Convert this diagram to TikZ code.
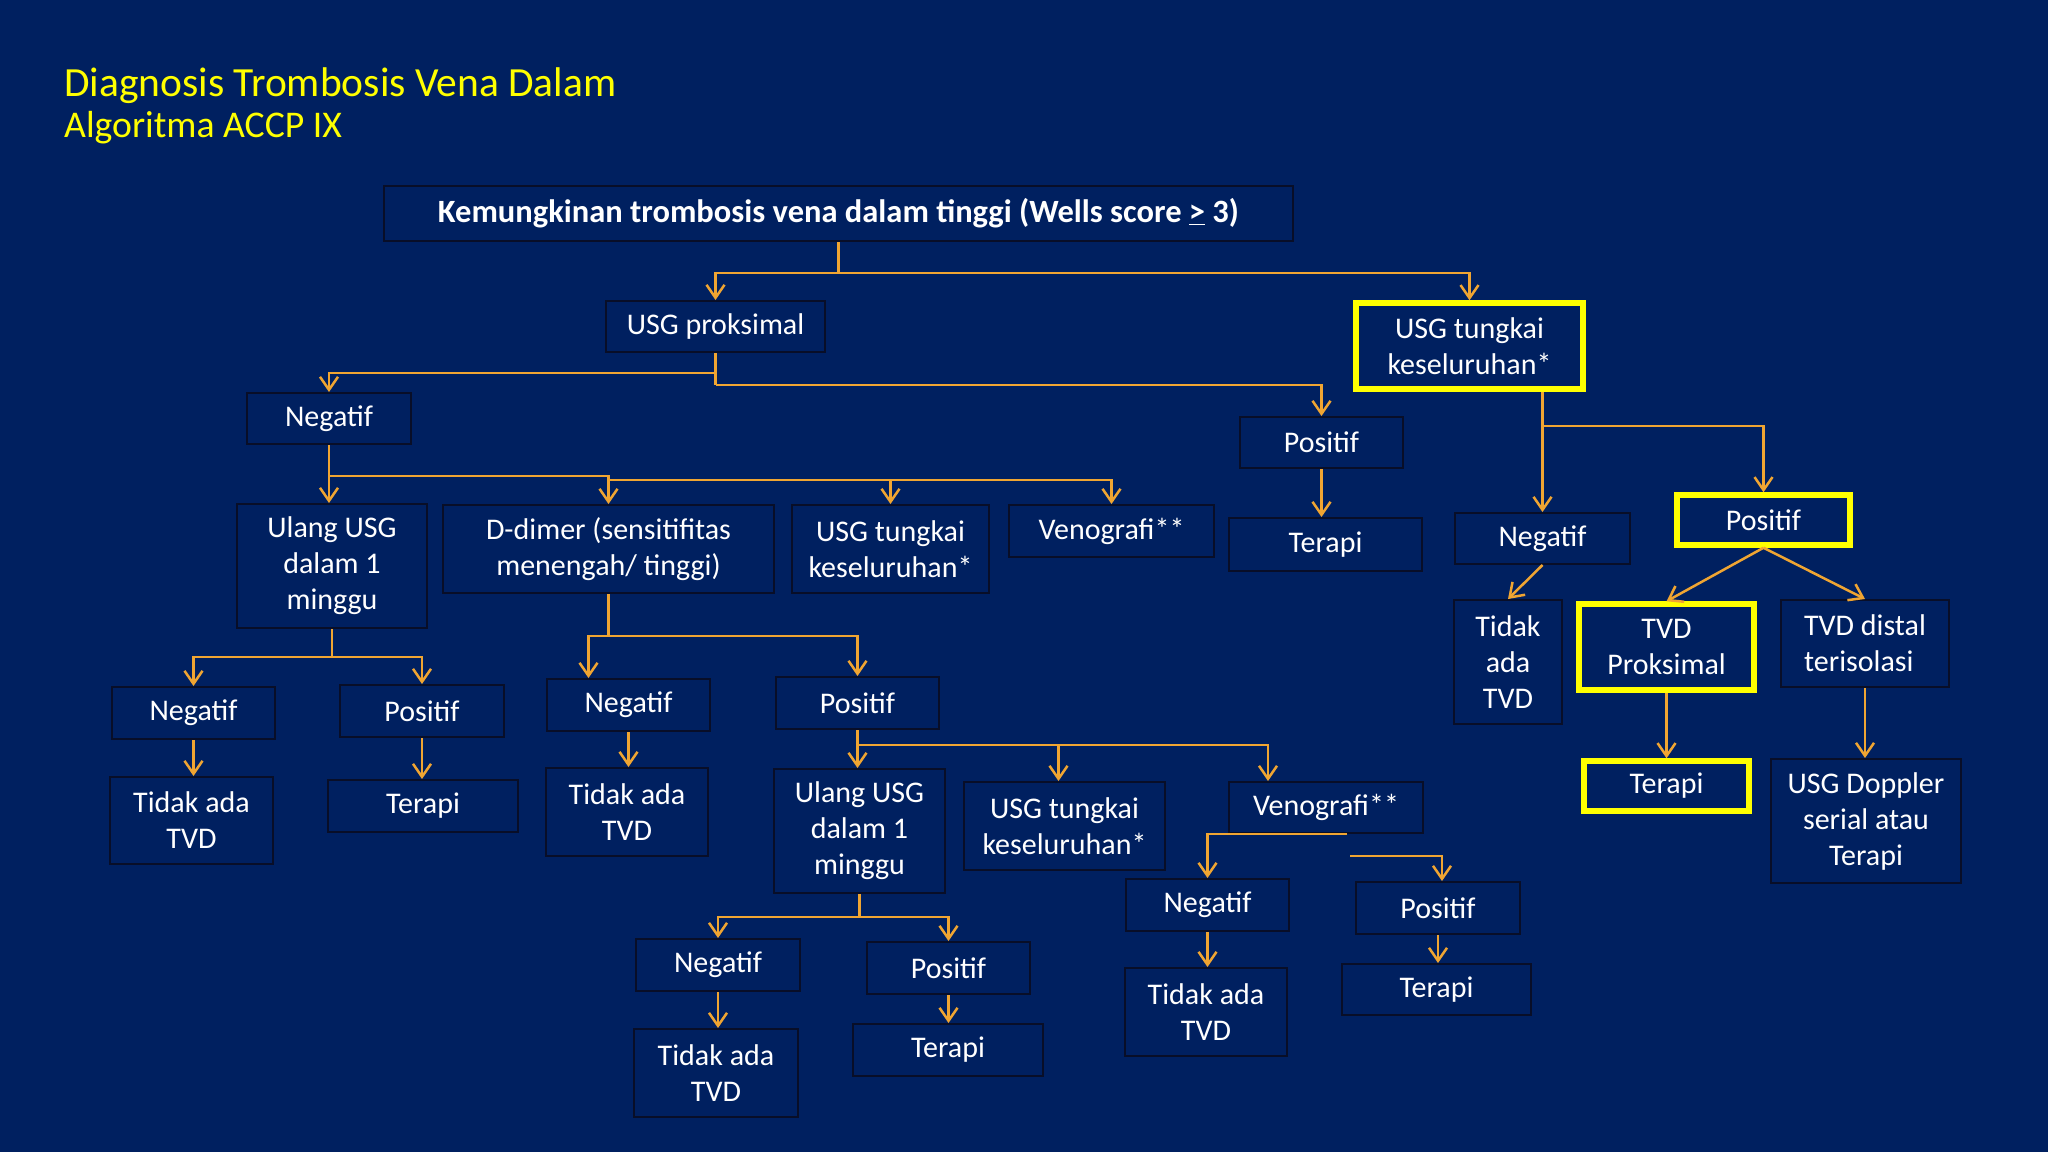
\documentclass[tikz,border=0pt]{standalone}
\usepackage{fontspec}
\setmainfont{Carlito}
\usetikzlibrary{arrows.meta,calc}
\definecolor{bg}{RGB}{0,32,96}
\definecolor{conncol}{RGB}{240,165,50}
\definecolor{brd}{RGB}{8,14,40}
\definecolor{ylw}{RGB}{255,255,0}
\newcommand\bodyfont{\fontsize{30}{36}\selectfont}
\tikzset{
 box/.style={draw=brd, line width=2pt, inner sep=0pt, text=white, align=center, font=\bodyfont},
 ybox/.style={box, draw=ylw, line width=5.5pt},
 conn/.style={draw=conncol, line width=2.5pt, -{Straight Barb[length=13pt,width=18pt]}},
 plainline/.style={draw=conncol, line width=2.5pt}
}
\begin{document}
\begin{tikzpicture}[x=1pt,y=-1pt]
\fill[bg] (0,0) rectangle (2048,1152);
\useasboundingbox (0,0) rectangle (2048,1152);

% titles
\node[anchor=base west, inner sep=0pt, text=ylw, font=\fontsize{41.5}{50}\selectfont] (title) at (64,96) {Diagnosis Trombosis Vena Dalam};
\node[anchor=base west, inner sep=0pt, text=ylw, font=\fontsize{37.7}{44}\selectfont] (subtitle) at (64,137) {Algoritma ACCP IX};

% boxes
\node[box, font=\fontsize{32.5}{38}\selectfont\bfseries, minimum width=909pt, minimum height=55pt] (top) at (838.5,213.5) {Kemungkinan trombosis vena dalam tinggi (Wells score \underline{>} 3)};
\node[box, minimum width=219pt, minimum height=51pt] (usgp) at (715.5,326.5) {USG proksimal};
\node[ybox, minimum width=227pt, minimum height=86pt] (usgt) at (1469.5,346) {USG tungkai\\keseluruhan*};

\node[box, minimum width=164pt, minimum height=51pt] (neg1) at (329,418.5) {Negatif};
\node[box, minimum width=163pt, minimum height=51pt] (pos1) at (1321.5,442.5) {Positif};
\node[box, minimum width=193pt, minimum height=53pt] (ter1) at (1325.5,544.5) {Terapi};

\node[box, minimum width=175pt, minimum height=51pt] (neg2) at (1542.5,538.5) {Negatif};
\node[ybox, minimum width=173pt, minimum height=50pt] (pos2) at (1763.5,520) {Positif};
\node[box, minimum width=108pt, minimum height=124pt] (tdk2) at (1508,662) {Tidak\\ada\\TVD};
\node[ybox, minimum width=175pt, minimum height=86pt] (tvdp) at (1666.5,647) {TVD\\Proksimal};
\node[box, minimum width=168pt, minimum height=87pt, align=left] (tvdd) at (1865,643.5) {TVD distal\\terisolasi};
\node[box, minimum width=190pt, minimum height=124pt] (dop) at (1866,821) {USG Doppler\\serial atau\\Terapi};
\node[ybox, minimum width=165pt, minimum height=50pt] (ter2) at (1666.5,786) {Terapi};

\node[box, minimum width=190pt, minimum height=124pt] (ulang1) at (332,566) {Ulang USG\\dalam 1\\minggu};
\node[box, minimum width=331pt, minimum height=88pt] (ddim) at (608.5,549) {D-dimer (sensitifitas\\menengah/ tinggi)};
\node[box, minimum width=197pt, minimum height=88pt] (usgt2) at (890.5,549) {USG tungkai\\keseluruhan*};
\node[box, minimum width=205pt, minimum height=52pt] (veno1) at (1111.5,531) {Venografi**};

\node[box, minimum width=163pt, minimum height=52pt] (neg3) at (193.5,713) {Negatif};
\node[box, minimum width=164pt, minimum height=52pt] (pos3) at (422,711) {Positif};
\node[box, minimum width=163pt, minimum height=87pt] (tdk3) at (191.5,820.5) {Tidak ada\\TVD};
\node[box, minimum width=190pt, minimum height=52pt] (ter3) at (423,806) {Terapi};

\node[box, minimum width=163pt, minimum height=52pt] (neg4) at (628.5,705) {Negatif};
\node[box, minimum width=162pt, minimum height=88pt] (tdk4) at (627,812) {Tidak ada\\TVD};
\node[box, minimum width=163pt, minimum height=52pt] (pos4) at (857.5,703) {Positif};

\node[box, minimum width=171pt, minimum height=124pt] (ulang2) at (859.5,831) {Ulang USG\\dalam 1\\minggu};
\node[box, minimum width=201pt, minimum height=88pt] (usgt3) at (1064.5,826) {USG tungkai\\keseluruhan*};
\node[box, minimum width=194pt, minimum height=51pt] (veno2) at (1326,807.5) {Venografi**};

\node[box, minimum width=163pt, minimum height=52pt] (neg5) at (1207.5,905) {Negatif};
\node[box, minimum width=162pt, minimum height=88pt] (tdk5) at (1206,1012) {Tidak ada\\TVD};
\node[box, minimum width=164pt, minimum height=52pt] (pos5) at (1438,908) {Positif};
\node[box, minimum width=189pt, minimum height=51pt] (ter5) at (1436.5,989.5) {Terapi};

\node[box, minimum width=164pt, minimum height=52pt] (neg6) at (718,965) {Negatif};
\node[box, minimum width=164pt, minimum height=88pt] (tdk6) at (716,1073) {Tidak ada\\TVD};
\node[box, minimum width=163pt, minimum height=52pt] (pos6) at (948.5,968) {Positif};
\node[box, minimum width=190pt, minimum height=52pt] (ter6) at (948,1050) {Terapi};

% hubs
\coordinate (h0) at ($(top.south)+(0,31)$);
\coordinate (h1) at ($(usgp.south)+(0,20)$);
\coordinate (h1b) at ($(usgp.south)+(0,32)$);
\coordinate (h2a) at (neg2.north |- usgt.south);
\coordinate (h2) at ($(h2a)+(0,34)$);
\coordinate (h3) at ($(neg1.south)+(0,31)$);
\coordinate (h3b) at ($(ddim.north |- h3)+(0,4)$);
\coordinate (h4) at ($(ulang1.south)+(0,28)$);
\coordinate (h5) at ($(ddim.south)+(0,42)$);
\coordinate (h6) at ($(pos4.south)+(0,15)$);
\coordinate (h7) at ($(ulang2.south)+(0,23)$);
\coordinate (v2a) at ($(veno2.south)+(21,0)$);
\coordinate (vfree) at ($(veno2.south)+(24,22)$);

% connectors
\draw[plainline] (top.south) -- (h0);
\draw[conn] (h0) -| (usgp.north);
\draw[conn] (h0) -| (usgt.north);

\draw[plainline] (usgp.south) -- (h1b);
\draw[conn] (h1) -| (neg1.north);
\draw[conn] (h1b) -| (pos1.north);
\draw[conn] (pos1.south) -- (pos1.south |- ter1.north);

\draw[conn] (h2a) -- (neg2.north);
\draw[conn] (h2) -| (pos2.north);
\draw[conn] (neg2.south) -- (tdk2.north);
\draw[conn] (pos2.south) -- (tvdp.north);
\draw[conn] (pos2.south) -- (tvdd.north);
\draw[conn] (tvdp.south) -- (tvdp.south |- ter2.north);
\draw[conn] (tvdd.south) -- (tvdd.south |- dop.north);

\draw[conn] (neg1.south) -- (neg1.south |- ulang1.north);
\draw[conn] (h3) -| (ddim.north);
\draw[conn] (h3b) -| (usgt2.north);
\draw[conn] (h3b) -| (veno1.north);

\draw[plainline] (ulang1.south) -- (h4);
\draw[conn] (h4) -| (neg3.north);
\draw[conn] (h4) -| (pos3.north);
\draw[conn] (neg3.south) -- (neg3.south |- tdk3.north);
\draw[conn] (pos3.south) -- (pos3.south |- ter3.north);

\draw[plainline] (ddim.south) -- (h5);
\draw[conn] (h5) -| ($(neg4.north)+(-40,0)$);
\draw[conn] (h5) -| (pos4.north);
\draw[conn] (neg4.south) -- (neg4.south |- tdk4.north);

\draw[conn] (pos4.south) -- (pos4.south |- ulang2.north);
\draw[conn] (h6) -| ($(usgt3.north)+(-6,0)$);
\draw[conn] (h6) -| ($(veno2.north)+(-58,0)$);

\draw[conn] (v2a) -| (neg5.north);
\draw[conn] (vfree) -| ($(pos5.north)+(4,0)$);
\draw[conn] (neg5.south) -- (neg5.south |- tdk5.north);
\draw[conn] (pos5.south) -- (pos5.south |- ter5.north);

\draw[plainline] (ulang2.south) -- (h7);
\draw[conn] (h7) -| (neg6.north);
\draw[conn] (h7) -| (pos6.north);
\draw[conn] (neg6.south) -- (neg6.south |- tdk6.north);
\draw[conn] (pos6.south) -- (pos6.south |- ter6.north);
\end{tikzpicture}
\end{document}
